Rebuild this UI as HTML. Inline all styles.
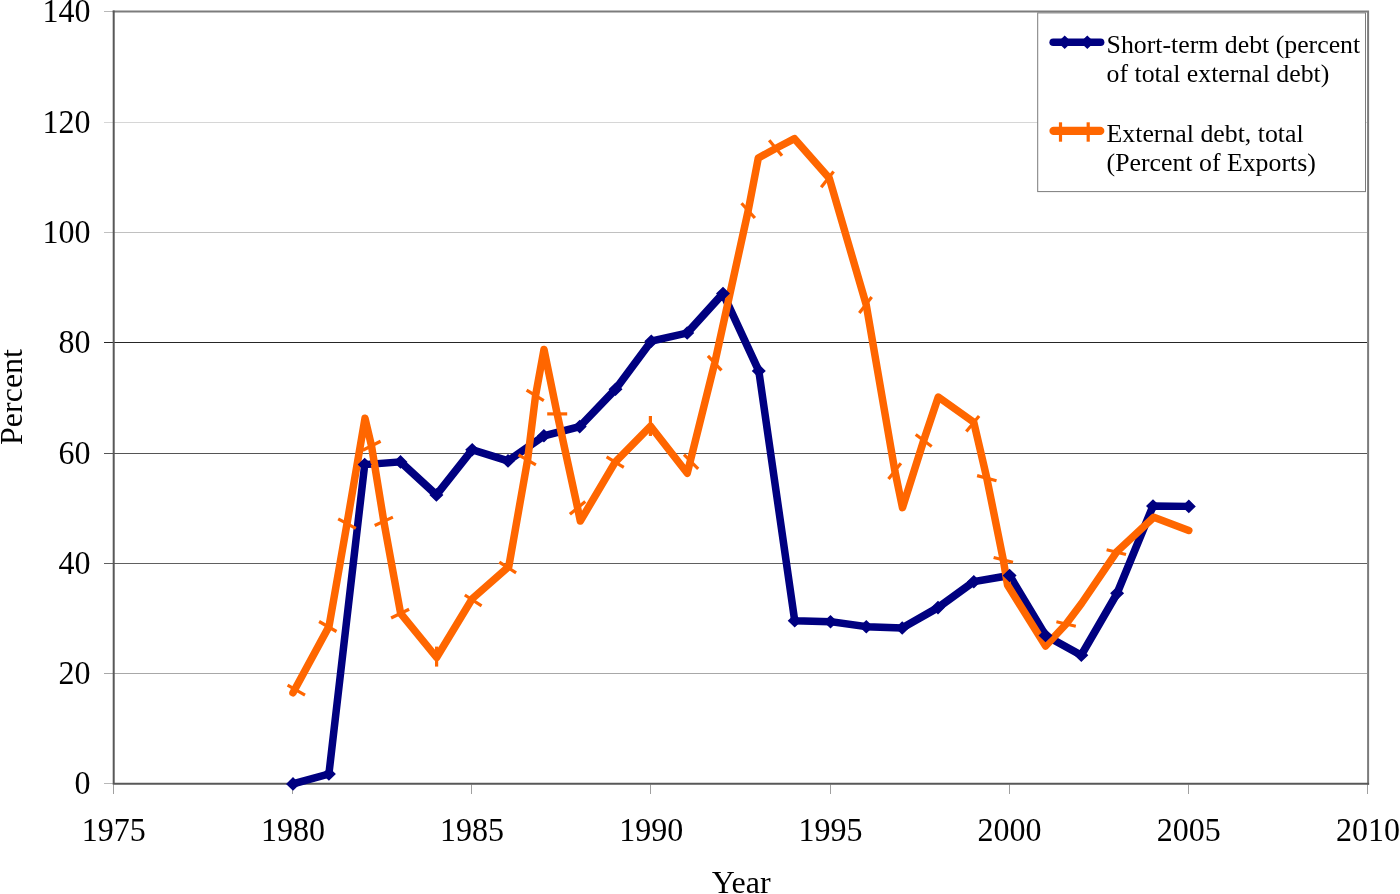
<!DOCTYPE html>
<html><head><meta charset="utf-8"><title>Chart</title>
<style>
html,body{margin:0;padding:0;background:#fff;}
body{width:1400px;height:894px;overflow:hidden;}
svg{display:block;}
text{font-family:"Liberation Serif","Times New Roman",serif;fill:#000;}
</style></head><body>
<svg width="1400" height="894" viewBox="0 0 1400 894">
<rect width="1400" height="894" fill="#fff"/>
<g id="grid">
<line x1="104" x2="1367" y1="122.5" y2="122.5" stroke="#d6d6d6" stroke-width="1"/>
<line x1="104" x2="1367" y1="232.5" y2="232.5" stroke="#c0c0c0" stroke-width="1"/>
<line x1="104" x2="1367" y1="342.5" y2="342.5" stroke="#262626" stroke-width="1"/>
<line x1="104" x2="1367" y1="453.5" y2="453.5" stroke="#555555" stroke-width="1"/>
<line x1="104" x2="1367" y1="563.5" y2="563.5" stroke="#606060" stroke-width="1"/>
<line x1="104" x2="1367" y1="673.5" y2="673.5" stroke="#a8a8a8" stroke-width="1"/>
<line x1="104" x2="113" y1="11.5" y2="11.5" stroke="#b8b8b8" stroke-width="1"/>
<line x1="104" x2="113" y1="783.5" y2="783.5" stroke="#b8b8b8" stroke-width="1"/>
<line x1="113.5" x2="113.5" y1="784.5" y2="794" stroke="#a0a0a0" stroke-width="1"/>
<line x1="292.5" x2="292.5" y1="784.5" y2="794" stroke="#a0a0a0" stroke-width="1"/>
<line x1="471.5" x2="471.5" y1="784.5" y2="794" stroke="#a0a0a0" stroke-width="1"/>
<line x1="650.5" x2="650.5" y1="784.5" y2="794" stroke="#a0a0a0" stroke-width="1"/>
<line x1="830.5" x2="830.5" y1="784.5" y2="794" stroke="#a0a0a0" stroke-width="1"/>
<line x1="1009.5" x2="1009.5" y1="784.5" y2="794" stroke="#a0a0a0" stroke-width="1"/>
<line x1="1188.5" x2="1188.5" y1="784.5" y2="794" stroke="#a0a0a0" stroke-width="1"/>
<line x1="1367.5" x2="1367.5" y1="784.5" y2="794" stroke="#a0a0a0" stroke-width="1"/>
</g>
<g id="frame" fill="none" stroke-width="2">
<path d="M112.7 11.4H1368.1V784.8" stroke="#7c7c7c"/>
<path d="M113.7 10.4V783.8H1369.1" stroke="#585858"/>
</g>
<rect x="1037.7" y="12.9" width="327.8" height="178.7" fill="#fff" stroke="#7c7c7c" stroke-width="1"/>
<path id="s1" d="M292.5 783.4L328.4 773.5L329.4 773.5L329.4 774.5L293.5 784.4L292.5 784.4ZM328.4 773.5L364.2 464.1L365.2 464.1L365.2 465.1L329.4 774.5L328.4 774.5ZM364.2 464.1L400.0 461.4L401.0 461.4L401.0 462.4L365.2 465.1L364.2 465.1ZM400.0 461.4L401.0 461.4L436.9 494.4L436.9 495.4L435.9 495.4L400.0 462.4ZM435.9 494.4L471.7 449.2L472.7 449.2L472.7 450.2L436.9 495.4L435.9 495.4ZM471.7 449.2L472.7 449.2L508.5 460.4L508.5 461.4L507.5 461.4L471.7 450.2ZM507.5 460.4L543.4 435.3L544.4 435.3L544.4 436.3L508.5 461.4L507.5 461.4ZM543.4 435.3L579.2 426.1L580.2 426.1L580.2 427.1L544.4 436.3L543.4 436.3ZM579.2 426.1L615.0 388.8L616.0 388.8L616.0 389.8L580.2 427.1L579.2 427.1ZM615.0 388.8L650.8 340.7L651.8 340.7L651.8 341.7L616.0 389.8L615.0 389.8ZM650.8 340.7L686.7 332.5L687.7 332.5L687.7 333.5L651.8 341.7L650.8 341.7ZM686.7 332.5L722.5 293.0L723.5 293.0L723.5 294.0L687.7 333.5L686.7 333.5ZM722.5 293.0L723.5 293.0L759.3 370.4L759.3 371.4L758.3 371.4L722.5 294.0ZM758.3 370.4L759.3 370.4L795.2 620.2L795.2 621.2L794.2 621.2L758.3 371.4ZM794.2 620.2L795.2 620.2L831.0 621.2L831.0 622.2L830.0 622.2L794.2 621.2ZM830.0 621.2L831.0 621.2L866.8 626.2L866.8 627.2L865.8 627.2L830.0 622.2ZM865.8 626.2L866.8 626.2L902.7 627.5L902.7 628.5L901.7 628.5L865.8 627.2ZM901.7 627.5L937.5 607.1L938.5 607.1L938.5 608.1L902.7 628.5L901.7 628.5ZM937.5 607.1L973.3 581.2L974.3 581.2L974.3 582.2L938.5 608.1L937.5 608.1ZM973.3 581.2L1009.1 575.0L1010.1 575.0L1010.1 576.0L974.3 582.2L973.3 582.2ZM1009.1 575.0L1010.1 575.0L1046.0 635.0L1046.0 636.0L1045.0 636.0L1009.1 576.0ZM1045.0 635.0L1046.0 635.0L1081.8 654.7L1081.8 655.7L1080.8 655.7L1045.0 636.0ZM1080.8 654.7L1116.6 592.8L1117.6 592.8L1117.6 593.8L1081.8 655.7L1080.8 655.7ZM1116.6 592.8L1152.5 505.5L1153.5 505.5L1153.5 506.5L1117.6 593.8L1116.6 593.8ZM1152.5 505.5L1153.5 505.5L1189.3 505.9L1189.3 506.9L1188.3 506.9L1152.5 506.5Z" fill="#000080" stroke="#000080" stroke-width="6.4" stroke-linejoin="round"/>
<polyline id="s2" points="293.0,692.8 329.0,626.4 347.0,523.6 365.0,418.3 371.5,445.8 383.8,521.3 400.6,613.4 436.6,657.5 472.2,598.7 508.8,566.5 527.6,459.8 535.6,395.4 544.0,349.5 557.2,413.9 577.6,507.9 580.3,521.0 615.2,462.1 650.6,426.2 687.3,473.2 714.7,363.1 748.2,210.6 758.3,158.0 775.6,148.5 794.5,138.7 829.3,178.3 866.2,304.6 894.9,471.1 902.5,507.7 923.7,440.5 938.3,397.0 973.8,422.3 986.8,478.2 1003.3,559.9 1007.5,585.0 1045.6,646.0 1066.1,624.0 1081.5,603.5 1116.5,552.1 1153.8,517.3 1188.8,530.4" fill="none" stroke="#ff6600" stroke-width="7.5" stroke-linejoin="round" stroke-linecap="round"/>
<path id="m1" d="M293.0 777.1L300.0 783.9L293.0 790.7L286.0 783.9ZM328.9 767.2L335.9 774.0L328.9 780.8L321.9 774.0ZM364.7 457.8L371.7 464.6L364.7 471.4L357.7 464.6ZM400.5 455.1L407.5 461.9L400.5 468.7L393.5 461.9ZM436.4 488.1L443.4 494.9L436.4 501.7L429.4 494.9ZM472.2 442.9L479.2 449.7L472.2 456.5L465.2 449.7ZM508.0 454.1L515.0 460.9L508.0 467.7L501.0 460.9ZM543.9 429.0L550.9 435.8L543.9 442.6L536.9 435.8ZM579.7 419.8L586.7 426.6L579.7 433.4L572.7 426.6ZM615.5 382.5L622.5 389.3L615.5 396.1L608.5 389.3ZM651.3 334.4L658.3 341.2L651.3 348.0L644.3 341.2ZM687.2 326.2L694.2 333.0L687.2 339.8L680.2 333.0ZM723.0 286.7L730.0 293.5L723.0 300.3L716.0 293.5ZM758.8 364.1L765.8 370.9L758.8 377.7L751.8 370.9ZM794.7 613.9L801.7 620.7L794.7 627.5L787.7 620.7ZM830.5 614.9L837.5 621.7L830.5 628.5L823.5 621.7ZM866.3 619.9L873.3 626.7L866.3 633.5L859.3 626.7ZM902.2 621.2L909.2 628.0L902.2 634.8L895.2 628.0ZM938.0 600.8L945.0 607.6L938.0 614.4L931.0 607.6ZM973.8 574.9L980.8 581.7L973.8 588.5L966.8 581.7ZM1009.6 568.7L1016.6 575.5L1009.6 582.3L1002.6 575.5ZM1045.5 628.7L1052.5 635.5L1045.5 642.3L1038.5 635.5ZM1081.3 648.4L1088.3 655.2L1081.3 662.0L1074.3 655.2ZM1117.1 586.5L1124.1 593.3L1117.1 600.1L1110.1 593.3ZM1153.0 499.2L1160.0 506.0L1153.0 512.8L1146.0 506.0ZM1188.8 499.6L1195.8 506.4L1188.8 513.2L1181.8 506.4Z" fill="#000080"/>
<g id="m2" stroke="#ff6600" stroke-width="3.2" stroke-linecap="butt">
<line x1="287.6" y1="685.2" x2="305.0" y2="695.2"/>
<line x1="319.1" y1="621.5" x2="336.5" y2="631.5"/>
<line x1="338.2" y1="518.9" x2="355.8" y2="528.3"/>
<line x1="362.8" y1="450.3" x2="380.6" y2="441.3"/>
<line x1="374.7" y1="525.5" x2="392.9" y2="517.1"/>
<line x1="391.1" y1="618.0" x2="409.1" y2="609.2"/>
<line x1="436.6" y1="646.6" x2="436.6" y2="666.6"/>
<line x1="464.8" y1="595.0" x2="481.6" y2="605.8"/>
<line x1="499.3" y1="562.1" x2="516.1" y2="572.9"/>
<line x1="518.5" y1="454.8" x2="535.9" y2="464.8"/>
<line x1="526.6" y1="390.2" x2="543.8" y2="400.6"/>
<line x1="547.2" y1="413.9" x2="567.2" y2="413.9"/>
<line x1="569.9" y1="514.3" x2="585.3" y2="501.5"/>
<line x1="606.6" y1="456.9" x2="623.8" y2="467.3"/>
<line x1="650.4" y1="416.0" x2="650.4" y2="436.0"/>
<line x1="684.0" y1="454.7" x2="698.2" y2="468.9"/>
<line x1="707.9" y1="355.8" x2="721.5" y2="370.4"/>
<line x1="741.5" y1="203.2" x2="754.9" y2="218.0"/>
<line x1="769.2" y1="140.3" x2="782.0" y2="155.7"/>
<line x1="821.2" y1="187.2" x2="833.6" y2="171.4"/>
<line x1="859.3" y1="312.9" x2="871.7" y2="297.1"/>
<line x1="888.5" y1="479.0" x2="900.9" y2="463.2"/>
<line x1="915.7" y1="434.5" x2="931.7" y2="446.5"/>
<line x1="966.3" y1="431.5" x2="979.1" y2="416.1"/>
<line x1="977.1" y1="475.6" x2="996.5" y2="480.8"/>
<line x1="993.6" y1="557.5" x2="1013.0" y2="562.3"/>
<line x1="1056.4" y1="621.8" x2="1075.8" y2="626.2"/>
<line x1="1106.6" y1="549.7" x2="1126.0" y2="554.5"/>
</g>
<line x1="1053.2" x2="1100.6" y1="42.3" y2="42.3" stroke="#000080" stroke-width="7.6" stroke-linecap="round"/>
<path d="M1064.7 35.5L1071.7 42.3L1064.7 49.1L1057.7 42.3ZM1087.3 35.5L1094.3 42.3L1087.3 49.1L1080.3 42.3Z" fill="#000080"/>
<line x1="1053.6" x2="1100.2" y1="130.9" y2="130.9" stroke="#ff6600" stroke-width="8.4" stroke-linecap="round"/>
<line x1="1060.5" x2="1060.5" y1="122.3" y2="141.7" stroke="#ff6600" stroke-width="3.2"/>
<line x1="1088.2" x2="1088.2" y1="122.3" y2="141.7" stroke="#ff6600" stroke-width="3.2"/>
<text x="1106.6" y="52.7" font-size="25.8">Short-term debt (percent</text>
<text x="1106.6" y="82.1" font-size="25.8">of total external debt)</text>
<text x="1106.6" y="141.6" font-size="25.8">External debt, total</text>
<text x="1106.6" y="171.0" font-size="25.8">(Percent of Exports)</text>
<text transform="translate(90.5,794.1) scale(1,1.05)" font-size="32" text-anchor="end">0</text>
<text transform="translate(90.5,683.8) scale(1,1.05)" font-size="32" text-anchor="end">20</text>
<text transform="translate(90.5,573.8) scale(1,1.05)" font-size="32" text-anchor="end">40</text>
<text transform="translate(90.5,463.8) scale(1,1.05)" font-size="32" text-anchor="end">60</text>
<text transform="translate(90.5,352.8) scale(1,1.05)" font-size="32" text-anchor="end">80</text>
<text transform="translate(90.5,242.8) scale(1,1.05)" font-size="32" text-anchor="end">100</text>
<text transform="translate(90.5,132.8) scale(1,1.05)" font-size="32" text-anchor="end">120</text>
<text transform="translate(90.5,22.0) scale(1,1.05)" font-size="32" text-anchor="end">140</text>
<text transform="translate(113.8,840.9) scale(1,1.05)" font-size="32" text-anchor="middle">1975</text>
<text transform="translate(293.0,840.9) scale(1,1.05)" font-size="32" text-anchor="middle">1980</text>
<text transform="translate(472.1,840.9) scale(1,1.05)" font-size="32" text-anchor="middle">1985</text>
<text transform="translate(651.3,840.9) scale(1,1.05)" font-size="32" text-anchor="middle">1990</text>
<text transform="translate(830.5,840.9) scale(1,1.05)" font-size="32" text-anchor="middle">1995</text>
<text transform="translate(1009.6,840.9) scale(1,1.05)" font-size="32" text-anchor="middle">2000</text>
<text transform="translate(1188.8,840.9) scale(1,1.05)" font-size="32" text-anchor="middle">2005</text>
<text transform="translate(1368.0,840.9) scale(1,1.05)" font-size="32" text-anchor="middle">2010</text>
<text x="741.2" y="893.2" font-size="32" text-anchor="middle">Year</text>
<text transform="translate(21.8,397) rotate(-90)" font-size="32" text-anchor="middle">Percent</text>
</svg></body></html>
